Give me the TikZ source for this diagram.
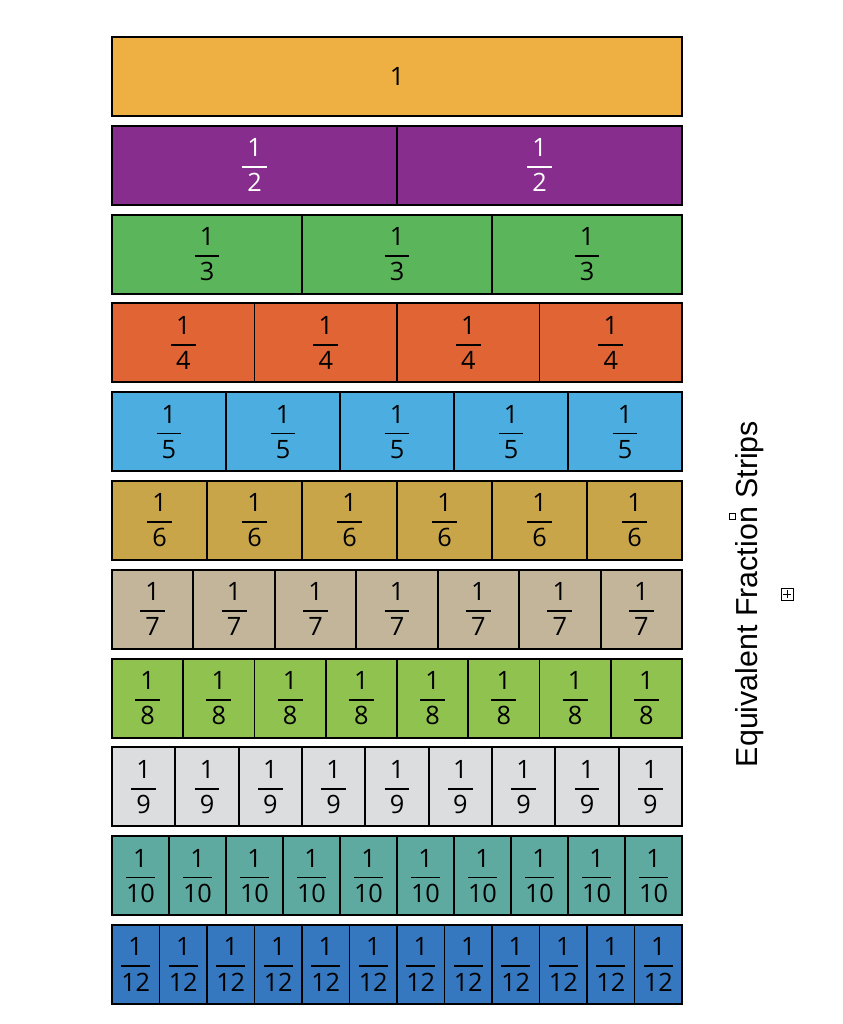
\documentclass[tikz,border=0pt]{standalone}
\usepackage{amsmath}
\usepackage{fontspec}
\setmainfont{Open Sans}
\newfontfamily\titlefont{Liberation Sans}
\usepackage{xcolor}

\definecolor{whole}{HTML}{EEB043}
\definecolor{halves}{HTML}{862D8D}
\definecolor{thirds}{HTML}{5BB65B}
\definecolor{fourths}{HTML}{E06434}
\definecolor{fifths}{HTML}{4CAEE0}
\definecolor{sixths}{HTML}{C9A54A}
\definecolor{sevenths}{HTML}{C2B59A}
\definecolor{eighths}{HTML}{8FC24F}
\definecolor{ninths}{HTML}{DCDDDF}
\definecolor{tenths}{HTML}{5EA9A0}
\definecolor{twelfths}{HTML}{3678C0}

\newcommand{\unitfrac}[1]{$\genfrac{}{}{1.3pt}{0}{\makebox[0.62cm]{1}}{\text{#1}}$}

\tikzset{
  cell/.style={draw=black, line width=1.4pt, anchor=north west, inner sep=0pt,
    minimum height=1.975cm, font=\fontsize{18}{20}\selectfont},
}

\begin{document}
\begin{tikzpicture}[x=0.025cm, y=-0.025cm]
    \useasboundingbox[fill=white] (0,0) rectangle (842,1024);
    % one strip per row, cut into n equal cells
    \foreach \n/\c/\t [count=\r] in {1/whole/black, 2/halves/white, 3/thirds/black,
        4/fourths/black, 5/fifths/black, 6/sixths/black, 7/sevenths/black,
        8/eighths/black, 9/ninths/black, 10/tenths/black, 12/twelfths/black}{
      \pgfmathsetmacro\w{570/\n}
      \foreach \k in {1,...,\n}{
        \node[cell, fill=\c, text=\t, minimum width={\w*0.025cm}] (s\n-\k)
          at ({111+(\k-1)*\w}, {36+(\r-1)*88.8}) {\ifnum\n=1 1\else\unitfrac{\n}\fi};
      }
    }
    % title on the right
    \node[rotate=90, font=\titlefont\fontsize{21.6}{24}\selectfont] (title) at (750,594) {Equivalent Fraction Strips};
    \node[draw, line width=0.4pt, minimum size=0.15cm, inner sep=0pt] (mark) at (732,516) {};
    \node[draw, line width=0.6pt, minimum size=0.3cm, inner sep=0pt] (expand) at (787,594) {};
    \draw[line width=0.6pt] ([yshift=-1.5pt]expand.north) -- ([yshift=1.5pt]expand.south)
        ([xshift=1.5pt]expand.west) -- ([xshift=-1.5pt]expand.east);
\end{tikzpicture}
\end{document}
